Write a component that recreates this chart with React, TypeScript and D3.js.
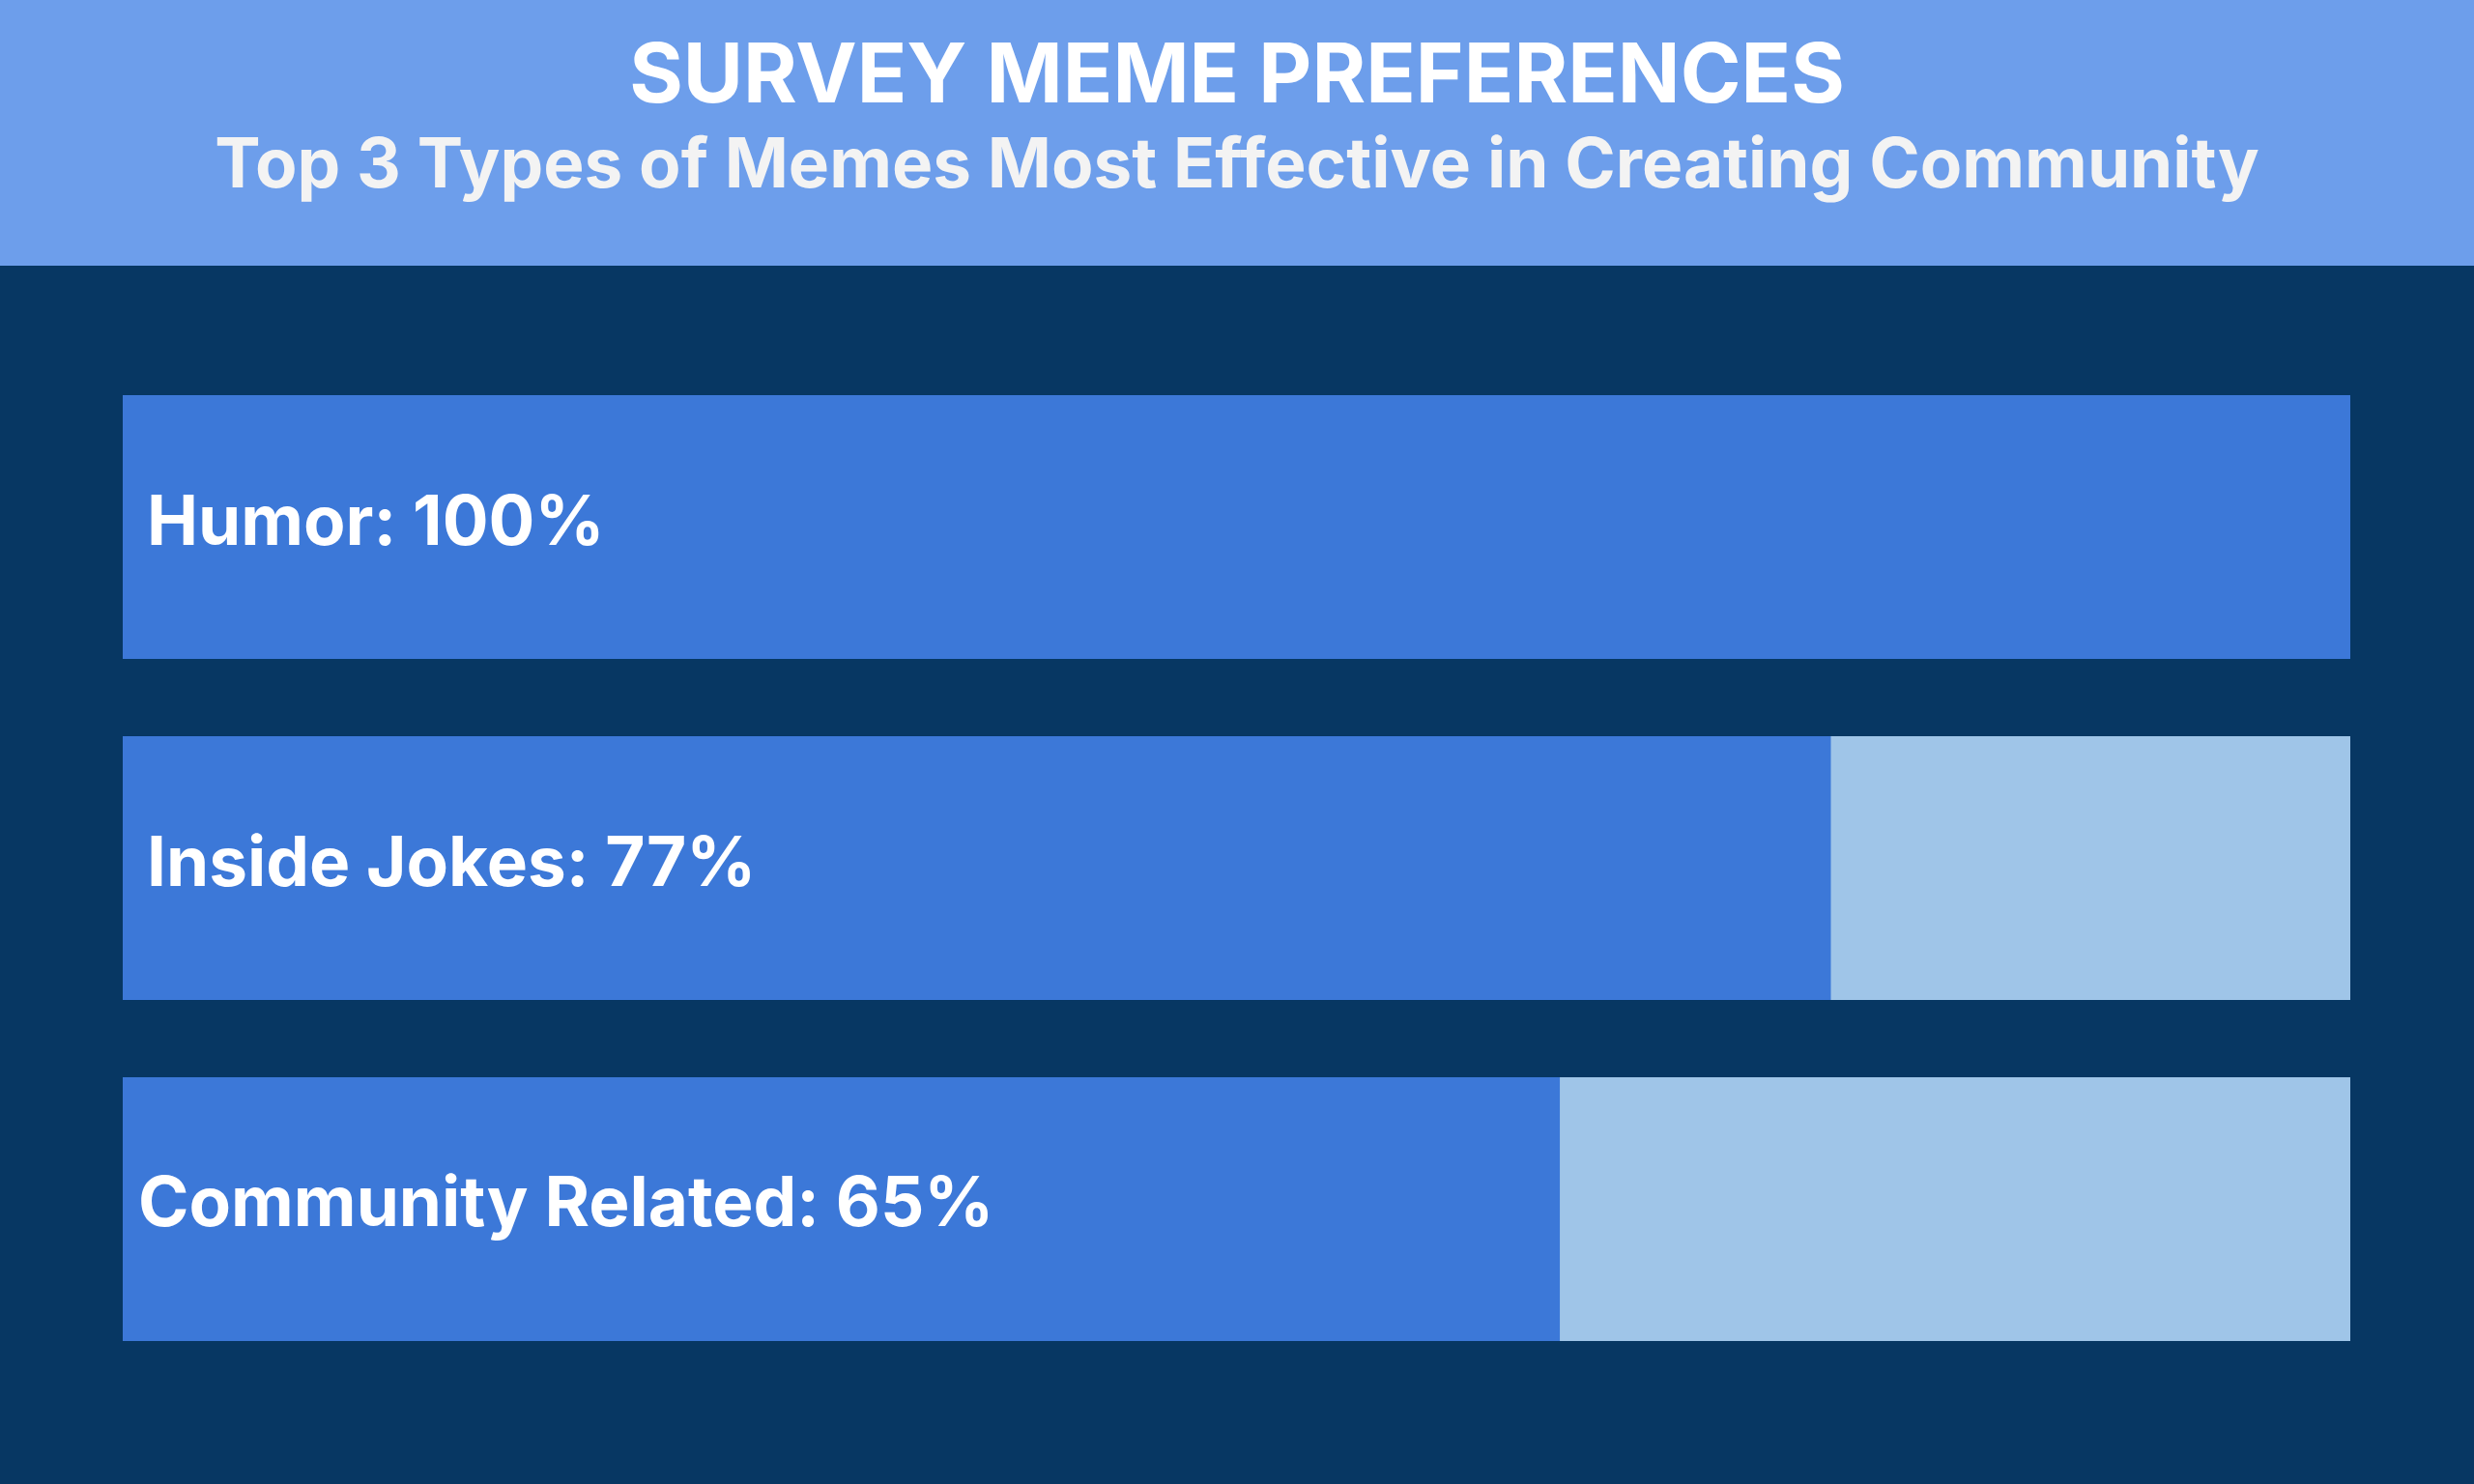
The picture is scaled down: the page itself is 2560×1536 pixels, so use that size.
import React, { useEffect } from "react";
import * as d3 from "d3";

const categories = ["Humor", "Inside Jokes", "Community Related"];
const percentValues = [100, 77, 65];
const titleText = "SURVEY MEME PREFERENCES";
const subtitleText = "Top 3 Types of Memes Most Effective in Creating Community";

const W = 2560;
const H = 1536;
const HEADER_H = 275;
const TRACK_X0 = 127;
const SCALE_X0 = 95;
const BAR_X1 = 2432;
const BARS_TOP = 409;
const BARS_BOTTOM = 1388;

const COLORS = {
  bg: "#073763",
  header: "#6d9eeb",
  bar: "#3c78d8",
  track: "#9fc5e8",
  title: "#ffffff",
  subtitle: "#f3f3f3",
};

export default function App() {
  useEffect(() => {
    document.body.style.margin = "0";
  }, []);

  const x = d3.scaleLinear().domain([0, 100]).range([SCALE_X0, BAR_X1]);
  const y = d3
    .scaleBand<string>()
    .domain(categories)
    .range([BARS_TOP, BARS_BOTTOM])
    .paddingInner(0.2266)
    .paddingOuter(0);

  const labelX = [152, 152, 143];
  const font = "Inter, 'Noto Sans', sans-serif";

  return (
    <svg width={W} height={H} style={{ display: "block", position: "absolute", left: 0, top: 0 }}>
      <rect x={0} y={0} width={W} height={H} fill={COLORS.bg} />
      <rect x={0} y={0} width={W} height={HEADER_H} fill={COLORS.header} />
      <text
        x={W / 2}
        y={106}
        textAnchor="middle"
        fill={COLORS.title}
        fontFamily={font}
        fontWeight={700}
        fontSize={85}
      >
        {titleText}
      </text>
      <text
        x={W / 2}
        y={194}
        textAnchor="middle"
        fill={COLORS.subtitle}
        fontFamily={font}
        fontWeight={700}
        fontSize={71}
      >
        {subtitleText}
      </text>
      {categories.map((c, i) => {
        const by = y(c) as number;
        const bh = y.bandwidth();
        return (
          <g key={c}>
            <rect x={TRACK_X0} y={by} width={x(100) - TRACK_X0} height={bh} fill={COLORS.track} />
            <rect x={TRACK_X0} y={by} width={x(percentValues[i]) - TRACK_X0} height={bh} fill={COLORS.bar} />
            <text
              x={labelX[i]}
              y={by + bh / 2 + 18}
              fill="#ffffff"
              fontFamily={font}
              fontWeight={700}
              fontSize={71}
            >
              {`${c}: ${percentValues[i]}%`}
            </text>
          </g>
        );
      })}
    </svg>
  );
}
